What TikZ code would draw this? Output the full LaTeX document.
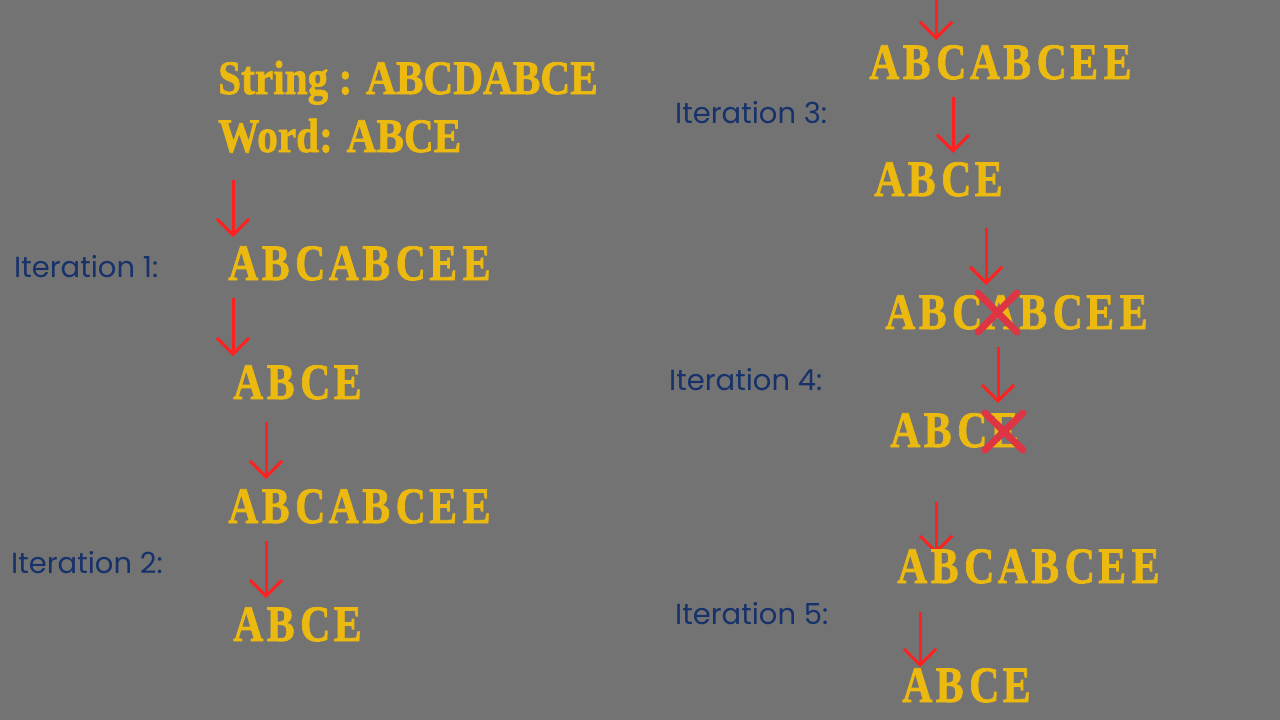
\documentclass[tikz,border=0pt]{standalone}
\usepackage{fontspec}
\usetikzlibrary{arrows.meta}
\newfontfamily\serifb{Liberation Serif}[BoldFeatures={FakeBold=1.6}]
\newfontfamily\labfont{Poppins}
\definecolor{bg}{HTML}{737373}
\definecolor{gold}{HTML}{EBB910}
\definecolor{navy}{HTML}{17326A}
\definecolor{arrred}{HTML}{FF2020}
\definecolor{xred}{HTML}{DE3545}
\newcommand\lt[1]{\makebox[33.5pt][l]{\scalebox{0.82}[1]{#1}}}
\newcommand\longrow{\lt A\lt B\lt C\lt A\lt B\lt C\lt E\lt E}
\newcommand\shortrow{\lt A\lt B\lt C\lt E}
\begin{document}
\begin{tikzpicture}[x=1pt,y=-1pt,
  row/.style={anchor=base west, inner sep=0pt, text=gold, font=\serifb\bfseries\fontsize{51}{60}\selectfont},
  titletext/.style={anchor=base west, inner sep=0pt, text=gold, font=\serifb\bfseries\fontsize{48}{56}\selectfont},
  lab/.style={anchor=base west, inner sep=0pt, text=navy, font=\labfont\fontsize{29}{33}\selectfont},
  arr/.style={draw=arrred, line width=3pt, -{Straight Barb[length=16pt,width=32pt]}},
  crossline/.style={draw=xred, line width=7pt, line cap=round}]
\useasboundingbox (0,0) rectangle (1280,720);
\fill[bg] (0,0) rectangle (1280,720);

% arrows
\coordinate (a1s) at (233,180); \coordinate (a1e) at (233,237);
\coordinate (a2s) at (233,298); \coordinate (a2e) at (233,356);
\coordinate (a3s) at (266,422); \coordinate (a3e) at (266,479);
\coordinate (a4s) at (266,541); \coordinate (a4e) at (266,598);
\coordinate (a5s) at (936,-4);  \coordinate (a5e) at (936,40);
\coordinate (a6s) at (953,97);  \coordinate (a6e) at (953,153);
\coordinate (a7s) at (986,228); \coordinate (a7e) at (986,285);
\coordinate (a8s) at (998,347); \coordinate (a8e) at (998,403);
\coordinate (a9s) at (936,502); \coordinate (a9e) at (936,554);
\coordinate (a10s) at (920,612); \coordinate (a10e) at (920,667);
\foreach \i in {1,...,10} {\draw[arr] (a\i s) -- (a\i e);}

% title
\node[titletext] (t1) at (218,94) {\scalebox{0.86}[1]{String : ABCDABCE}};
\node[titletext] (t2) at (218,152) {\scalebox{0.86}[1]{Word: ABCE}};

% rows
\node[row] (r1) at (228,280) {\longrow};
\node[row] (r2) at (233,399) {\shortrow};
\node[row] (r3) at (228,523) {\longrow};
\node[row] (r4) at (233,641) {\shortrow};
\node[row] (r5) at (869,79) {\longrow};
\node[row] (r6) at (874,196) {\shortrow};
\node[row] (r7) at (885,329) {\longrow};
\node[row] (r8) at (890,447) {\shortrow};
\node[row] (r9) at (897,583) {\longrow};
\node[row] (r10) at (902,702) {\shortrow};

% labels
\node[lab] (l1) at (14,277) {Iteration 1:};
\node[lab] (l2) at (11,573) {Iteration 2:};
\node[lab] (l3) at (675,123) {Iteration 3:};
\node[lab] (l4) at (669,390) {Iteration 4:};
\node[lab] (l5) at (675,624) {Iteration 5:};

% crosses
\coordinate (x1a) at (978,293); \coordinate (x1b) at (1017,332);
\coordinate (x1c) at (1017,293); \coordinate (x1d) at (978,332);
\coordinate (x2a) at (985,413); \coordinate (x2b) at (1023,450);
\coordinate (x2c) at (1023,413); \coordinate (x2d) at (985,450);
\draw[crossline] (x1a) -- (x1b) (x1c) -- (x1d);
\draw[crossline] (x2a) -- (x2b) (x2c) -- (x2d);
\end{tikzpicture}
\end{document}
